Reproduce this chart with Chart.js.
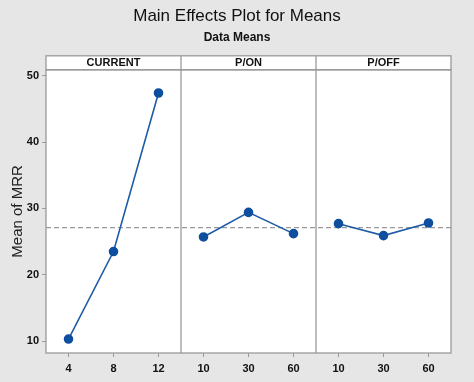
<!DOCTYPE html>
<html><head><meta charset="utf-8">
<script src="https://cdn.jsdelivr.net/npm/chart.js@4/dist/chart.umd.min.js"></script>
<style>html,body{margin:0;padding:0;background:#e6e6e6;}#wrap{width:474px;height:382px;}</style>
</head><body><div id="wrap"><canvas id="c" width="474" height="382"></canvas></div>
<script>
const panels = ['CURRENT', 'P/ON', 'P/OFF'];
const currentLevels = ['4', '8', '12'];
const currentMeans = [10.3, 23.5, 47.4];
const ponLevels = ['10', '30', '60'];
const ponMeans = [25.7, 29.4, 26.2];
const poffLevels = ['10', '30', '60'];
const poffMeans = [27.7, 25.9, 27.8];
const grandMean = 27.1;
const yTicks = [10, 20, 30, 40, 50];

const FONT = "'Liberation Sans Narrow','Liberation Sans',Arial,sans-serif";
const levelGroups = [currentLevels, ponLevels, poffLevels];
const meanGroups = [currentMeans, ponMeans, poffMeans];
const labels = [].concat(...levelGroups);
const datasets = meanGroups.map((m, g) => {
  const data = labels.map(() => null);
  let off = 0; for (let k = 0; k < g; k++) off += levelGroups[k].length;
  m.forEach((v, i) => { data[off + i] = v; });
  return { label: panels[g], data, xAxisID: 'x', borderColor: '#1f5ca8', backgroundColor: '#0d4f9e',
    pointBorderColor: '#0d4f9e', borderWidth: 1.6, pointRadius: 4, pointHoverRadius: 4, spanGaps: false, tension: 0 };
});

const framePlugin = {
  id: 'frame',
  beforeDraw(chart) {
    const { ctx, chartArea: a, scales } = chart;
    const x2 = scales.x2;
    ctx.save();
    ctx.fillStyle = '#ffffff';
    ctx.fillRect(a.left, x2.top, a.right - a.left, a.bottom - x2.top);
    ctx.restore();
  },
  beforeDatasetsDraw(chart) {
    const { ctx, chartArea: a, scales } = chart;
    const x2 = scales.x2, y = scales.y, x = scales.x;
    ctx.save();
    ctx.strokeStyle = '#9a9a9a'; ctx.lineWidth = 1.3;
    ctx.strokeRect(a.left, x2.top, a.right - a.left, x2.bottom - x2.top);
    ctx.strokeRect(a.left, a.top, a.right - a.left, a.bottom - a.top);
    let idx = 0;
    for (let g = 0; g < levelGroups.length - 1; g++) {
      idx += levelGroups[g].length;
      const px = (x.getPixelForValue(idx - 1) + x.getPixelForValue(idx)) / 2;
      ctx.beginPath(); ctx.moveTo(px, x2.top); ctx.lineTo(px, a.bottom); ctx.stroke();
    }
    const py = y.getPixelForValue(grandMean);
    ctx.strokeStyle = '#9a9a9a'; ctx.lineWidth = 1.2; ctx.setLineDash([5, 3]);
    ctx.beginPath(); ctx.moveTo(a.left, py); ctx.lineTo(a.right, py); ctx.stroke();
    ctx.restore();
  }
};

new Chart(document.getElementById('c'), {
  type: 'line',
  data: { labels, datasets },
  options: {
    responsive: false, animation: false, devicePixelRatio: 1,
    layout: { padding: 0 },
    plugins: {
      legend: { display: false }, tooltip: { enabled: false },
      title: { display: true, text: 'Main Effects Plot for Means', color: '#111',
        font: { family: FONT, size: 17, weight: 'normal', lineHeight: 1.2 }, padding: { top: 6, bottom: 0 } },
      subtitle: { display: true, text: 'Data Means', color: '#111',
        font: { family: FONT, size: 12, weight: 'bold', lineHeight: 1.2 }, padding: { top: 4, bottom: 11 } }
    },
    scales: {
      x: { type: 'category', position: 'bottom', offset: true,
        grid: { display: true, offset: false, drawOnChartArea: false, drawTicks: true, tickLength: 4, color: '#9a9a9a' },
        border: { display: false },
        ticks: { color: '#111', font: { family: FONT, size: 11, weight: 'bold' }, padding: 5, maxRotation: 0, autoSkip: false },
        afterFit(s) { s.height = 29; } },
      x2: { type: 'category', position: 'top', labels: panels, offset: true,
        grid: { display: false, drawTicks: false }, border: { display: false },
        ticks: { color: '#111', font: { family: FONT, size: 11, weight: 'bold' }, padding: 0, autoSkip: false, maxRotation: 0 },
        afterFit(s) { s.height = 14; } },
      y: { type: 'linear', min: 8.2, max: 50.9,
        afterBuildTicks(s) { s.ticks = yTicks.map(v => ({ value: v })); },
        grid: { display: true, drawOnChartArea: false, tickLength: 4, color: '#9a9a9a' },
        border: { display: false },
        ticks: { color: '#111', font: { family: FONT, size: 11, weight: 'bold' }, padding: 3 },
        title: { display: true, text: 'Mean of MRR', color: '#222', font: { family: FONT, size: 15, weight: 'normal' }, padding: { top: 9, bottom: 4 } },
        afterFit(s) { s.width = 46; } },
      yr: { type: 'linear', position: 'right', display: true,
        grid: { display: false, drawTicks: false }, border: { display: false }, ticks: { display: false },
        afterFit(s) { s.width = 23; } }
    }
  },
  plugins: [framePlugin]
});
</script></body></html>
